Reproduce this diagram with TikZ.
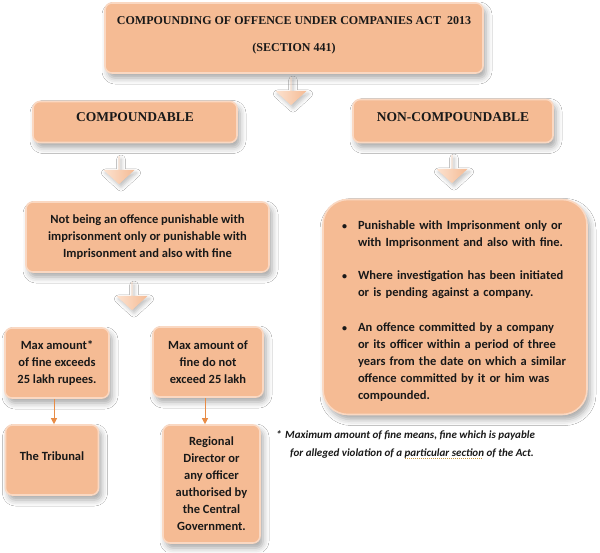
\documentclass[tikz,border=0pt]{standalone}
\usepackage{fontspec}
\setmainfont{Carlito}
\newfontfamily\headfont{Liberation Serif}
\usetikzlibrary{shapes.arrows,shadows.blur,arrows.meta}
\definecolor{peach}{RGB}{245,187,148}
\definecolor{peachrim}{RGB}{250,216,194}
\definecolor{peachlite}{RGB}{252,226,208}
\definecolor{thinarrow}{RGB}{232,140,70}
\definecolor{txt}{RGB}{25,25,25}
\definecolor{dotc}{RGB}{200,150,60}
\newcommand\bitem{\par\noindent\hangindent=17pt\hangafter=1\makebox[17pt][l]{\hspace{1pt}\raisebox{0.5pt}{\fontsize{10}{10}\selectfont\textbullet}}}
\newsavebox\dulbox
\newcommand\dotul[1]{\sbox\dulbox{#1}\rlap{\raisebox{-3pt}{\hbox to \wd\dulbox{\color{dotc}\leaders\hbox to 2pt{\hss\rule{1pt}{0.8pt}\hss}\hfill}}}#1}
\tikzset{
  box/.style={draw=peachrim, line width=1.6pt, fill=peach, rounded corners=7pt,
    inner sep=0pt, align=center, text=txt,
    blur shadow={shadow xshift=3pt, shadow yshift=-5pt, shadow blur radius=6pt, shadow opacity=35}},
  body/.style={font=\bfseries\fontsize{12.5}{17}\selectfont},
  head/.style={font=\headfont\bfseries\fontsize{12}{15}\selectfont},
  subhead/.style={font=\headfont\bfseries\fontsize{13.5}{16}\selectfont},
  barrow/.style={shape=single arrow, shape border rotate=270, draw=none,
    single arrow head extend=9pt, single arrow tip angle=95,
    minimum height=28pt, minimum width=31pt, inner sep=0pt,
    left color=peachlite, right color=peach,
    blur shadow={shadow xshift=2pt, shadow yshift=-3pt, shadow blur radius=4pt, shadow opacity=25}},
  thin/.style={draw=thinarrow, line width=0.8pt, -{Triangle[length=6pt,width=6pt]}}
}
\begin{document}
\begin{tikzpicture}[x=1pt,y=-1pt]
\fill[white] (0,0) rectangle (600,552);
\useasboundingbox (0,0) rectangle (600,552);

\node[box, head, minimum width=378pt, minimum height=70pt] (top) at (294,38)
  {COMPOUNDING OF OFFENCE UNDER COMPANIES ACT\ \ 2013\\[12pt](SECTION 441)\\[-7pt]\mbox{}};
\node[box, subhead, minimum width=204pt, minimum height=41pt] (comp) at (135,122)
  {COMPOUNDABLE\\[-6pt]\mbox{}};
\node[box, subhead, minimum width=200pt, minimum height=43pt] (ncomp) at (453,121)
  {NON-COMPOUNDABLE\\[-9pt]\mbox{}};

\node[barrow] (a0) at (291,91) {};
\node[barrow] (a1) at (119,170) {};
\node[barrow] (a2) at (452,169) {};
\node[barrow] (a3) at (132,296) {};

\node[box, body, minimum width=243pt, minimum height=70pt] (notb) at (147.5,237)
  {Not being an offence punishable with\\ imprisonment only or punishable with\\ Imprisonment and also with fine};

\node[box, body, rounded corners=25pt, minimum width=264pt, minimum height=215pt,
  text width=228pt, align=left] (nct) at (455,307)
  {\bitem Punishable with Imprisonment only or\newline with Imprisonment and also with fine.\par\vspace{16pt}
   \bitem Where investigation has been initiated\newline or is pending against a company.\par\vspace{18pt}
   \bitem An offence committed by a company\newline or its officer within a period of three\newline years from the date on which a similar\newline offence committed by it or him was\newline compounded.\par};

\node[box, body, minimum width=104pt, minimum height=70pt] (m1) at (57,363)
  {Max amount*\\ of fine exceeds\\ 25 lakh rupees.};
\node[box, body, minimum width=110pt, minimum height=70pt] (m2) at (208,362)
  {Max amount of\\ fine do not\\ exceed 25 lakh};

\node[box, body, minimum width=93pt, minimum height=70pt] (trib) at (52,460)
  {The Tribunal\\[-9pt]\mbox{}};
\node[box, body, minimum width=97pt, minimum height=118pt] (reg) at (211.5,484)
  {Regional\\ Director or\\ any officer\\ authorised by\\ the Central\\ Government.};

\draw[thin] (m1.south -| 54,0) -- (trib.north -| 54,0);
\draw[thin] (m2.south -| 205,0) -- (reg.north -| 205,0);

\node[anchor=base west, align=left, text=txt, inner sep=0pt,
  font=\bfseries\itshape\fontsize{11}{18}\selectfont] (foot) at (276,456)
  {\makebox[9pt][l]{*}Maximum amount of fine means, fine which is payable\\
   \hspace*{14pt}for alleged violation of a \dotul{particular section} of the Act.};
\end{tikzpicture}
\end{document}
